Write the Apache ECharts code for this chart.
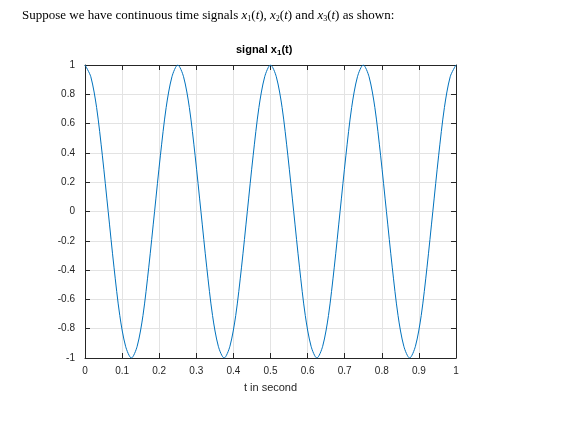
<!DOCTYPE html>
<html>
<head>
<meta charset="utf-8">
<script src="https://cdn.jsdelivr.net/npm/echarts@6/dist/echarts.min.js"></script>
<style>html,body{margin:0;padding:0;background:#fff;}#chart{width:564px;height:433px;}</style>
</head>
<body>
<div id="chart"></div>
<script>
// samples, every 1/64 s
const times = [0, 0.015625, 0.03125, 0.046875, 0.0625, 0.078125, 0.09375, 0.109375,
  0.125, 0.140625, 0.15625, 0.171875, 0.1875, 0.203125, 0.21875, 0.234375,
  0.25, 0.265625, 0.28125, 0.296875, 0.3125, 0.328125, 0.34375, 0.359375,
  0.375, 0.390625, 0.40625, 0.421875, 0.4375, 0.453125, 0.46875, 0.484375,
  0.5, 0.515625, 0.53125, 0.546875, 0.5625, 0.578125, 0.59375, 0.609375,
  0.625, 0.640625, 0.65625, 0.671875, 0.6875, 0.703125, 0.71875, 0.734375,
  0.75, 0.765625, 0.78125, 0.796875, 0.8125, 0.828125, 0.84375, 0.859375,
  0.875, 0.890625, 0.90625, 0.921875, 0.9375, 0.953125, 0.96875, 0.984375, 1];
const values = [1, 0.92, 0.71, 0.38, 0, -0.38, -0.71, -0.92,
  -1, -0.92, -0.71, -0.38, 0, 0.38, 0.71, 0.92,
  1, 0.92, 0.71, 0.38, 0, -0.38, -0.71, -0.92,
  -1, -0.92, -0.71, -0.38, 0, 0.38, 0.71, 0.92,
  1, 0.92, 0.71, 0.38, 0, -0.38, -0.71, -0.92,
  -1, -0.92, -0.71, -0.38, 0, 0.38, 0.71, 0.92,
  1, 0.92, 0.71, 0.38, 0, -0.38, -0.71, -0.92,
  -1, -0.92, -0.71, -0.38, 0, 0.38, 0.71, 0.92, 1];

const chart = echarts.init(document.getElementById('chart'));
const axisLine = { show: true, onZero: false, lineStyle: { color: '#262626', width: 1 } };
const tick = { show: true, inside: true, length: 5, lineStyle: { color: '#262626' } };
const grid = { show: true, lineStyle: { color: '#e3e3e3', width: 1 } };
const lbl = { color: '#262626', fontSize: 10, fontFamily: 'Arial' };

chart.setOption({
  animation: false,
  grid: { left: 85, right: 108, top: 65, bottom: 75 },
  graphic: [
    { type: 'text', left: 22, top: 9, style: {
      text: '{n|Suppose we have continuous time signals }{i|x}{s|1}{n|(}{i|t}{n|), }{i|x}{s|2}{n|(}{i|t}{n|) and }{i|x}{s|3}{n|(}{i|t}{n|) as shown:}',
      rich: {
        n: { fontFamily: 'Liberation Serif', fontSize: 13, fill: '#000' },
        i: { fontFamily: 'Liberation Serif', fontSize: 13, fontStyle: 'italic', fill: '#000' },
        s: { fontFamily: 'Liberation Serif', fontSize: 8, fill: '#000', padding: [6, 0, 0, 0] }
      } } },
    { type: 'text', left: 236, top: 44, style: {
      text: '{b|signal x}{s|1}{b|(t)}',
      rich: {
        b: { fontFamily: 'Arial', fontSize: 11, fontWeight: 'bold', fill: '#000' },
        s: { fontFamily: 'Arial', fontSize: 8, fontWeight: 'bold', fill: '#000', padding: [7, 0, 0, 0] }
      } } }
  ],
  xAxis: [
    { type: 'value', min: 0, max: 1, interval: 0.1, axisLine, axisTick: tick, splitLine: grid,
      axisLabel: { ...lbl, margin: 8 },
      name: 't in second', nameLocation: 'middle', nameGap: 24,
      nameTextStyle: { color: '#262626', fontSize: 11, fontFamily: 'Arial' } },
    { type: 'value', position: 'top', min: 0, max: 1, interval: 0.1, axisLine, axisTick: tick,
      axisLabel: { show: false }, splitLine: { show: false } }
  ],
  yAxis: [
    { type: 'value', min: -1, max: 1, interval: 0.2, axisLine, axisTick: tick, splitLine: grid,
      axisLabel: { ...lbl, margin: 10, formatter: v => +v.toFixed(1) + '' } },
    { type: 'value', position: 'right', min: -1, max: 1, interval: 0.2, axisLine, axisTick: tick,
      axisLabel: { show: false }, splitLine: { show: false } }
  ],
  series: [{
    type: 'line', smooth: 0.3, showSymbol: false,
    data: times.map((t, i) => [t, values[i]]),
    lineStyle: { color: '#0072bd', width: 1 }
  }]
});
</script>
</body>
</html>
